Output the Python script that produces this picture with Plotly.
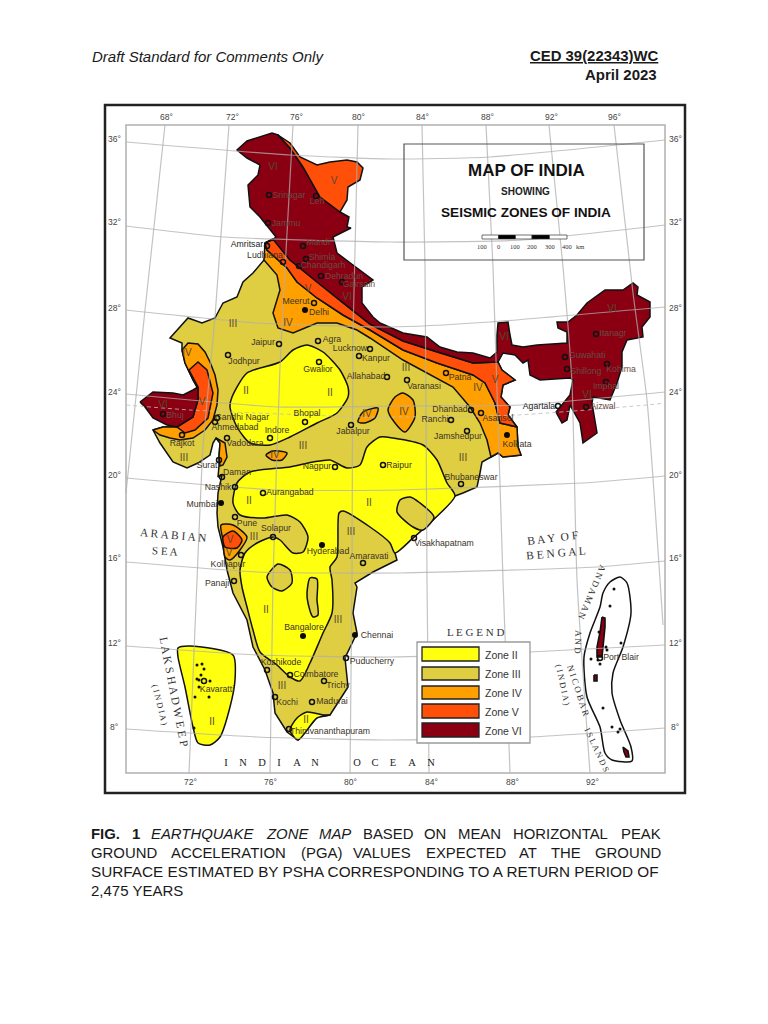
"""Seismic zone map of India, redrawn from the draft standard page."""

import plotly.graph_objects as go

# ---------------- colours ----------------
ZONE2 = "#ffff10"
ZONE3 = "#dfcd42"
ZONE4 = "#ffa000"
ZONE5 = "#ff4f08"
ZONE6 = "#8a0012"
SERIF = "Liberation Serif"
SANS = "Liberation Sans"

# ---------------- outlines, page pixels ----------------
vi_lower = [(273, 239), (290, 260), (317, 282), (343, 303), (370, 324), (403, 341), (437, 352),
            (473, 363), (498, 362)]
v_iv_line = [(500, 423), (495, 403), (485, 383), (473, 375), (437, 363), (403, 350), (370, 330),
             (343, 315), (317, 298), (297, 282), (287, 268), (267, 250), (265, 243)]
iv_iii_line = [(264, 260), (277, 275), (280, 290), (273, 313), (278, 328), (293, 333), (317, 323),
               (337, 323), (357, 330), (370, 338), (403, 360), (430, 375), (453, 387), (470, 407),
               (480, 423), (487, 440), (491, 457)]
bengal_border = [(502, 370), (515, 380), (503, 385), (501, 397), (510, 407), (508, 415), (517, 427)]
bengal_coast = [(518, 447), (521, 455), (503, 457), (498, 453), (491, 457)]
east_coast = [(482, 462), (480, 473), (477, 487), (463, 493), (455, 496), (433, 520), (413, 538),
              (395, 553), (397, 560), (373, 572), (355, 583), (357, 587), (353, 613), (357, 633),
              (345, 658), (348, 687), (330, 715), (317, 717), (298, 740)]
west_coast = [(287, 732), (275, 713), (273, 693), (265, 670), (253, 647), (247, 620), (233, 593),
              (227, 570), (223, 547), (218, 527), (217, 513), (218, 493), (222, 475), (218, 477)]
gujarat_coast = [(219, 466), (219, 457), (220, 443), (216, 438), (213, 443), (210, 455), (198, 463),
                 (187, 468), (173, 462), (160, 443), (153, 430), (163, 427), (177, 427), (193, 417),
                 (198, 400), (197, 387), (193, 380), (185, 363), (182, 350), (182, 343)]
rajasthan_edge = [(170, 338), (177, 330), (188, 318), (202, 323), (215, 318), (223, 303), (237, 297),
                  (243, 282), (253, 273), (264, 260), (267, 250), (265, 243)]
kashmir_top = [(265, 243), (272, 240), (276, 237), (272, 232), (265, 223), (260, 217), (250, 207),
               (248, 185), (258, 175), (260, 165), (247, 158), (237, 150), (247, 141), (272, 133),
               (278, 135)]
ladakh_split = [(290, 148), (303, 167), (320, 197), (340, 212)]
ladakh_top = [(278, 135), (290, 143), (300, 157), (317, 165), (330, 162), (347, 160), (357, 162),
              (363, 168), (360, 180), (348, 187), (347, 200), (340, 212)]
himalaya_top = [(349, 217), (347, 227), (351, 228), (333, 237), (337, 253), (353, 265), (373, 280),
                (362, 287), (362, 303), (373, 317), (380, 323), (403, 333), (427, 337), (440, 347),
                (457, 352), (473, 353), (490, 358)]
northeast = [(497, 352), (497, 335), (498, 323), (508, 322), (510, 335), (512, 345), (523, 347),
             (537, 345), (567, 343), (567, 332), (558, 328), (557, 322), (568, 322), (577, 315),
             (587, 303), (605, 290), (623, 290), (633, 283), (638, 287), (637, 295), (650, 302),
             (650, 317), (642, 327), (643, 337), (627, 340), (622, 352), (622, 367), (617, 383),
             (610, 400), (593, 397), (592, 403), (597, 433), (583, 443), (580, 423), (570, 405),
             (567, 420), (562, 423), (556, 412), (570, 395), (573, 380), (570, 378), (540, 380),
             (530, 375), (528, 360), (523, 363), (515, 355), (503, 353), (498, 362)]

mainland = vi_lower + bengal_border + bengal_coast + east_coast + west_coast + gujarat_coast + rajasthan_edge + kashmir_top[:1]
zone4_north = iv_iii_line + bengal_coast[::-1][1:] + [(517, 427)] + v_iv_line
zone5_north = [(265, 243)] + vi_lower + bengal_border + v_iv_line
zone6_north = kashmir_top + ladakh_split + himalaya_top + northeast + vi_lower[::-1][1:] + [(272, 240)]
zone5_ladakh = ladakh_top + ladakh_split[::-1] + [(278, 135)]

kutch = [(140, 402), (153, 392), (173, 393), (183, 395), (193, 390), (198, 387), (198, 400),
         (193, 417), (177, 427), (167, 425), (153, 418), (145, 407)]
gujarat_v = [(189, 370), (198, 362), (207, 370), (213, 393), (208, 418), (195, 430), (185, 433),
             (177, 427), (193, 417), (198, 400), (198, 387)]
gujarat_iv = [(182, 350), (188, 343), (198, 344), (205, 352), (210, 362), (215, 375), (218, 390),
              (217, 405), (213, 420), (205, 430), (193, 438), (180, 440), (170, 438), (160, 435),
              (153, 430), (163, 427), (177, 427), (193, 417), (198, 400), (197, 387), (193, 380),
              (185, 363)]
surat_iv = [(216, 438), (225, 443), (227, 457), (223, 465), (220, 466), (219, 457), (220, 443)]
jabalpur_iv = [(358, 422), (363, 412), (378, 408), (375, 418), (365, 423)]
ranchi_iv = [(388, 410), (395, 397), (403, 393), (413, 400), (415, 417), (405, 432), (395, 423)]
nagpur_iv = [(266, 455), (273, 451), (287, 453), (282, 460), (272, 460)]
kolhapur_iv = [(221, 525), (233, 525), (247, 537), (240, 550), (230, 560), (225, 557), (223, 540)]
kolhapur_v = [(223, 537), (233, 531), (242, 540), (237, 548), (225, 547)]

zone2_north = [(307, 345), (323, 352), (340, 370), (348, 387), (348, 397), (337, 413), (317, 423),
               (290, 437), (270, 445), (250, 443), (237, 427), (230, 407), (232, 397), (247, 373),
               (280, 362), (293, 350)]
zone2_south = [(250, 472), (290, 467), (313, 462), (330, 460), (347, 468), (360, 465), (367, 447),
               (380, 437), (393, 438), (423, 445), (437, 460), (447, 483), (455, 496), (433, 520),
               (413, 538), (395, 553), (390, 543), (370, 527), (343, 511), (339, 513), (337, 557),
               (330, 567), (332, 580), (332, 613), (323, 633), (310, 663), (300, 681), (290, 677),
               (277, 665), (260, 652), (253, 630), (247, 607), (242, 587), (240, 570), (245, 553),
               (257, 543), (273, 537), (280, 540), (293, 553), (303, 552), (308, 537), (300, 522),
               (287, 515), (263, 518), (240, 515), (233, 503), (237, 483)]
patch_visakh = [(397, 512), (400, 500), (410, 497), (420, 503), (434, 517), (423, 530), (413, 527)]
patch_oval = [(267, 577), (278, 564), (290, 570), (292, 583), (282, 591), (272, 587)]
patch_sliver = [(307, 593), (310, 578), (317, 579), (317, 600), (318, 615), (313, 617), (308, 603)]
zone2_tip = [(290, 730), (297, 718), (307, 712), (323, 715), (330, 715), (317, 718), (298, 740)]
lakshadweep = [(178, 648), (190, 646), (233, 655), (235, 680), (230, 707), (220, 737), (210, 745),
               (198, 743), (193, 727), (185, 687), (178, 657)]
andaman = [(603, 593), (610, 582), (620, 577), (627, 583), (631, 613), (623, 647), (613, 673),
           (612, 693), (620, 720), (631, 747), (632, 761), (612, 760), (605, 753), (600, 727),
           (587, 697), (584, 657), (590, 633), (600, 607)]
andaman_main = [(602, 617), (605, 618), (605, 627), (603, 643), (602, 657), (597, 657), (597, 647),
                (600, 632), (601, 620)]
andaman_little = [(594, 675), (597, 675), (597, 681), (594, 681)]
nicobar = [(623, 747), (628, 751), (629, 757), (626, 757), (624, 752)]
island_x = [197, 202, 204, 201, 197, 199, 210, 199, 195, 209, 194, 603, 612, 618, 591, 621, 614, 610, 606, 620, 599, 598, 607, 600]
island_y = [665, 664, 669, 675, 679, 680, 681, 687, 697, 697, 728, 708, 727, 732, 659, 643, 589, 606, 647, 729, 632, 660, 650, 664]

# ---------------- graticule ----------------
meridians = [
    [(165, 125), (145, 310), (126, 493)],
    [(229, 125), (215, 317), (203, 447), (197, 580), (189, 773)],
    [(293, 125), (287, 233), (280, 367), (273, 580), (270, 773)],
    [(358, 125), (353, 333), (352, 580), (350, 773)],
    [(422, 125), (425, 267), (427, 580), (429, 773)],
    [(486, 125), (493, 267), (503, 580), (510, 773)],
    [(549, 125), (563, 267), (572, 383), (577, 580), (590, 773)],
    [(614, 125), (633, 293), (647, 400), (663, 625)],
]
parallels = [
    [(126, 142), (290, 155), (390, 159), (490, 157), (665, 140)],
    [(126, 226), (223, 237), (390, 242), (523, 240), (665, 225)],
    [(126, 310), (257, 323), (390, 327), (490, 322), (665, 307)],
    [(126, 394), (277, 407), (400, 406), (520, 405), (665, 392)],
    [(126, 478), (277, 490), (400, 490), (583, 483), (665, 476)],
    [(126, 562), (257, 572), (400, 573), (597, 567), (665, 561)],
    [(126, 646), (257, 655), (390, 657), (530, 652), (665, 645)],
    [(126, 729), (257, 737), (390, 740), (530, 737), (665, 728)],
]
tropic = [(126, 405), (190, 410), (367, 417), (517, 415), (647, 405), (665, 403)]

top_ticks = ["68°", "72°", "76°", "80°", "84°", "88°", "92°", "96°"]
top_x = [166, 232, 296, 358, 422, 487, 551, 614]
side_ticks = ["36°", "32°", "28°", "24°", "20°", "16°", "12°", "8°"]
side_y = [139, 222, 308, 392, 475, 558, 643, 727]
bottom_ticks = ["72°", "76°", "80°", "84°", "88°", "92°"]
bottom_x = [190, 270, 350, 431, 512, 592]

# ---------------- cities ----------------
open_names = ["Srinagar", "Leh", "Jammu", "Mandi", "Ludhiana", "Shimla", "Chandigarh", "Dehradun", "Gairsain",
              "Meerut", "Jaipur", "Agra", "Lucknow", "Kanpur", "Jodhpur", "Gwalior", "Allahabad", "Varanasi",
              "Patna", "Dhanbad", "Asansol", "Ranchi", "Jamshedpur", "Itanagr", "Guwahati", "Kohima", "Shillong",
              "Imphal", "Aizwal", "Bhuj", "Rajkot", "Gandhi Nagar", "Ahmedabad", "Vadodara", "Indore", "Bhopal",
              "Jabalpur", "Nagpur", "Raipur", "Bhubaneswar", "Visakhapatnam", "Surat", "Daman", "Nashik",
              "Aurangabad", "Pune", "Solapur", "Amaravati", "Kolhapur", "Panaji", "Puducherry", "Kozhikode",
              "Coimbatore", "Trichy", "Kochi", "Madurai", "Thiruvananthapuram", "Kavaratti", "Port Blair"]
open_x = [269, 316, 268, 303, 283, 306, 299, 321, 342, 314, 279, 318, 370, 359, 228, 319, 387, 407, 446, 471, 481,
          451, 467, 596, 565, 607, 567, 606, 586, 163, 182, 217, 215, 227, 270, 305, 351, 335, 383, 461, 414, 219,
          222, 235, 263, 235, 273, 363, 241, 234, 346, 267, 290, 324, 275, 312, 289, 204, 600]
open_y = [195, 196, 223, 246, 262, 259, 266, 276, 282, 303, 344, 341, 349, 356, 355, 362, 377, 380, 373, 410, 413,
          420, 431, 334, 357, 364, 369, 382, 407, 414, 435, 418, 422, 438, 438, 422, 425, 467, 465, 484, 538, 460,
          477, 487, 493, 517, 537, 563, 555, 581, 658, 670, 675, 681, 697, 702, 729, 681, 658]
open_label_x = [289, 317, 286, 318, 265, 322, 323, 344, 359, 296, 263, 332, 350, 376, 244, 318, 366, 424, 460, 450,
                498, 435, 458, 613, 587, 621, 586, 606, 603, 175, 182, 242, 235, 245, 277, 307, 353, 317, 399, 471,
                444, 207, 237, 218, 290, 247, 276, 369, 228, 217, 372, 281, 316, 338, 287, 332, 330, 217, 621]
open_label_y = [196, 202, 224, 243, 256, 258, 266, 277, 285, 302, 343, 340, 349, 359, 362, 370, 377, 387, 378, 410,
                419, 420, 437, 334, 356, 370, 372, 387, 407, 416, 444, 418, 428, 444, 431, 414, 432, 467, 466, 478,
                544, 466, 473, 488, 493, 524, 529, 557, 565, 584, 662, 663, 675, 686, 703, 702, 732, 690, 658]
on_maroon = ["Srinagar", "Leh", "Jammu", "Mandi", "Shimla", "Chandigarh", "Dehradun", "Gairsain", "Itanagr",
             "Guwahati", "Kohima", "Shillong", "Imphal", "Aizwal", "Bhuj"]
solid_names = ["Delhi", "Kolkata", "Mumbai", "Hyderabad", "Bangalore", "Chennai"]
solid_x = [305, 507, 221, 322, 303, 355]
solid_y = [310, 435, 503, 545, 636, 635]
solid_label_x = [319, 517, 202, 328, 304, 377]
solid_label_y = [313, 445, 505, 552, 628, 636]
outside_names = ["Amritsar", "Agartala"]
outside_x = [267, 558]
outside_y = [246, 406]
outside_label_x = [247, 539]
outside_label_y = [245, 407]

# ---------------- zone numerals ----------------
numerals = ["VI", "V", "VI", "V", "IV", "III", "IV", "II", "II", "VI", "VI", "VI", "V", "IV", "III", "IV", "III", "IV",
            "IV", "III", "VI", "V", "III", "II", "III", "V", "V", "II", "III", "II", "III", "III", "II", "II"]
numeral_x = [273, 334, 347, 308, 288, 233, 187, 246, 330, 612, 504, 587, 495, 478, 406, 404, 463, 367,
             275, 303, 163, 202, 184, 249, 254, 230, 229, 369, 351, 266, 338, 282, 306, 212]
numeral_y = [167, 181, 297, 289, 323, 324, 353, 391, 393, 309, 337, 395, 380, 388, 368, 412, 458, 414,
             455, 446, 405, 402, 458, 501, 537, 540, 553, 503, 532, 610, 620, 686, 720, 722]

# ---------------- sea names, rotated labels ----------------
ocean_letters = ["I", "N", "D", "I", "A", "N", "O", "C", "E", "A", "N"]
ocean_x = [226, 243, 262, 279, 297, 315, 357, 375, 393, 412, 431]
rotated_text = ["A R A B I A N", "S E A", "B A Y  O F", "B E N G A L", "L E G E N D",
                "L A K S H A D W E E P", "( I N D I A )", "A N D A M A N", "A N D", "N I C O B A R", "I S L A N D S",
                "( I N D I A )"]
rotated_x = [173, 165, 552, 556, 475, 174, 160, 592, 578, 578, 597, 563]
rotated_y = [535, 551, 538, 553, 632, 692, 705, 592, 642, 690, 750, 685]
rotated_angle = [5, 3, -7, -5, 0, 79, 76, 113, 92, 72, 65, 78]
rotated_size = [11.5, 11, 11.5, 11.5, 11, 11.5, 8.5, 9, 9, 9, 8.5, 8.5]

# ---------------- legend and scale bar ----------------
legend_names = ["Zone II", "Zone III", "Zone IV", "Zone V", "Zone VI"]
legend_colors = [ZONE2, ZONE3, ZONE4, ZONE5, ZONE6]
legend_top = [647, 667, 686, 704, 723]
legend_bottom = [661, 680, 699, 718, 737]
scale_edges = [482, 498.5, 515.5, 532, 549.5, 567]
scale_colors = ["white", "black", "white", "black", "white"]
scale_labels = ["100", "0", "100", "200", "300", "400", "km"]
scale_label_x = [482, 498, 515, 532, 550, 567, 580]

# ---------------- caption ----------------
line1_words = ["<b>FIG.</b>", "<b>1</b>", "<i>EARTHQUAKE</i>", "<i>ZONE</i>", "<i>MAP</i>", "BASED", "ON", "MEAN",
               "HORIZONTAL", "PEAK"]
line1_x = [90, 131, 150, 265, 318, 362, 423, 457, 512, 620]
line2_words = ["GROUND", "ACCELERATION", "(PGA)", "VALUES", "EXPECTED", "AT", "THE", "GROUND"]
line2_x = [90, 170, 300, 352, 425, 518, 550, 594]
line3 = "SURFACE ESTIMATED BY PSHA CORRESPONDING TO A RETURN PERIOD OF"
line4 = "2,475 YEARS"


fig = go.Figure()


def add_poly(points, color, smooth=False, width=1.5, line_color="#111111"):
    xs = [p[0] for p in points] + [points[0][0]]
    ys = [p[1] for p in points] + [points[0][1]]
    line = dict(color=line_color, width=width)
    if smooth:
        line.update(shape="spline", smoothing=0.7)
    fig.add_trace(go.Scatter(x=xs, y=ys, mode="lines", fill="toself", fillcolor=color, line=line, hoverinfo="skip"))


def add_path(points, color, width=1.0, dash=None):
    fig.add_trace(go.Scatter(x=[p[0] for p in points], y=[p[1] for p in points], mode="lines",
                             line=dict(color=color, width=width, dash=dash, shape="spline", smoothing=0.5),
                             hoverinfo="skip"))


def add_text(xs, ys, labels, size, color="#333333", family=SANS):
    fig.add_trace(go.Scatter(x=xs, y=ys, text=labels, mode="text", textposition="middle center",
                             textfont=dict(size=size, color=color, family=family), hoverinfo="skip"))


def note(x, y, text, size, anchor="left", color="#1a1a1a", family=SANS, angle=0):
    fig.add_annotation(x=x, y=y, text=text, showarrow=False, xanchor=anchor, yanchor="middle", textangle=angle,
                       borderpad=0, font=dict(size=size, color=color, family=family))


# ---------------- frames ----------------
fig.add_shape(type="rect", x0=105, y0=105, x1=685, y1=793, line=dict(color="#222222", width=2.5), fillcolor="white", layer="below")
fig.add_shape(type="rect", x0=126, y0=125, x1=665, y1=773, line=dict(color="#b0b0b0", width=1.5), layer="below")

# ---------------- zones, painted from the largest down ----------------
add_poly(mainland, ZONE3)
add_poly(zone4_north, ZONE4)
add_poly(zone5_north, ZONE5)
add_poly(zone6_north, ZONE6)
add_poly(zone5_ladakh, ZONE5)
add_poly(gujarat_iv, ZONE4)
add_poly(gujarat_v, ZONE5)
add_poly(kutch, ZONE6)
add_poly(surat_iv, ZONE4)
for patch in [jabalpur_iv, ranchi_iv, nagpur_iv, kolhapur_iv]:
    add_poly(patch, ZONE4, smooth=True)
add_poly(kolhapur_v, ZONE5, smooth=True)
add_poly(zone2_north, ZONE2, smooth=True)
add_poly(zone2_south, ZONE2, smooth=True)
for patch in [patch_visakh, patch_oval, patch_sliver]:
    add_poly(patch, ZONE3, smooth=True)
add_poly(zone2_tip, ZONE2, smooth=True)
add_poly(lakshadweep, ZONE2, smooth=True)
add_poly(andaman, "rgba(255,255,255,0)", smooth=True)
for patch in [andaman_main, andaman_little, nicobar]:
    add_poly(patch, ZONE6, width=1.6)

# ---------------- graticule on top of the fills ----------------
for path in meridians + parallels:
    add_path(path, "rgba(175,175,175,0.75)", width=1.2)
add_path(tropic, "rgba(190,190,190,0.8)", width=1.0, dash="4px,3px")

# ---------------- marks ----------------
fig.add_trace(go.Scatter(x=island_x, y=island_y, mode="markers", marker=dict(size=3, color="#111111"), hoverinfo="skip"))
fig.add_trace(go.Scatter(x=open_x + outside_x, y=open_y + outside_y, mode="markers", hoverinfo="skip",
                         marker=dict(size=5, symbol="circle-open", color="#111111", line=dict(width=1.5, color="#111111"))))
fig.add_trace(go.Scatter(x=solid_x, y=solid_y, mode="markers", marker=dict(size=6, color="#0a0a0a"), hoverinfo="skip"))

open_colors = ["#6a4a42" if name in on_maroon else "#3b3327" for name in open_names]
add_text(open_label_x, open_label_y, open_names, 8.7, color=open_colors)
add_text(solid_label_x, solid_label_y, solid_names, 8.7, color="#3b3327")
add_text(outside_label_x, outside_label_y, outside_names, 8.7, color="#1a1a1a")
add_text(numeral_x, numeral_y, numerals, 10, color="#57492a")
add_text(ocean_x, [763] * len(ocean_x), ocean_letters, 10.5, color="#222222", family=SERIF)

for tick, x in zip(top_ticks, top_x):
    note(x, 117, tick, 8.5, anchor="center", color="#444444")
for tick, y in zip(side_ticks, side_y):
    note(114, y, tick, 8.5, anchor="center", color="#444444")
    note(675, y, tick, 8.5, anchor="center", color="#444444")
for tick, x in zip(bottom_ticks, bottom_x):
    note(x, 782, tick, 8.5, anchor="center", color="#444444")
for label, x, y, angle, size in zip(rotated_text, rotated_x, rotated_y, rotated_angle, rotated_size):
    note(x, y, label, size, anchor="center", color="#333333", family=SERIF, angle=angle)

# ---------------- title box ----------------
fig.add_shape(type="rect", x0=404, y0=144, x1=644, y1=260, line=dict(color="#555555", width=1.2))
note(526, 170, "<b>MAP OF INDIA</b>", 17, anchor="center", color="#111111")
note(525, 191, "<b>SHOWING</b>", 10, anchor="center", color="#222222")
note(526, 212, "<b>SEISMIC ZONES OF INDIA</b>", 13.6, anchor="center", color="#111111")
for left, right, shade in zip(scale_edges[:-1], scale_edges[1:], scale_colors):
    fig.add_shape(type="rect", x0=left, y0=235, x1=right, y1=239, fillcolor=shade, line=dict(color="#333333", width=0.7))
for label, x in zip(scale_labels, scale_label_x):
    note(x, 246.5, label, 6.5, anchor="center", color="#333333", family=SERIF)

# ---------------- legend ----------------
fig.add_shape(type="rect", x0=417, y0=642, x1=530, y1=743, fillcolor="white", line=dict(color="#9a9a9a", width=1.3))
for name, shade, top, bottom in zip(legend_names, legend_colors, legend_top, legend_bottom):
    fig.add_shape(type="rect", x0=422, y0=top, x1=479, y1=bottom, fillcolor=shade, line=dict(color="#222222", width=1.3))
    note(484, (top + bottom) / 2 + 0.5, name, 10.5, color="#333333")

# ---------------- page text ----------------
note(91, 56, "<i>Draft Standard for Comments Only</i>", 15)
note(660, 56, "<b><u>CED 39(22343)WC</u></b>", 14.9, anchor="right")
note(658, 74, "<b>April 2023</b>", 15, anchor="right")
for word, x in zip(line1_words, line1_x):
    note(x, 834, word, 14.9)
for word, x in zip(line2_words, line2_x):
    note(x, 853, word, 14.9)
note(90, 871, line3, 15.3)
note(90, 890, line4, 15)

# the page body keeps its 8 px margin, so the axes start at 8 to stay in page pixels
fig.update_layout(
    width=752, height=1000, margin=dict(l=0, r=0, t=0, b=0), showlegend=False,
    paper_bgcolor="white", plot_bgcolor="white",
    xaxis=dict(range=[8, 760], visible=False, fixedrange=True),
    yaxis=dict(range=[1008, 8], visible=False, fixedrange=True),
)

fig.write_html("out.html")
